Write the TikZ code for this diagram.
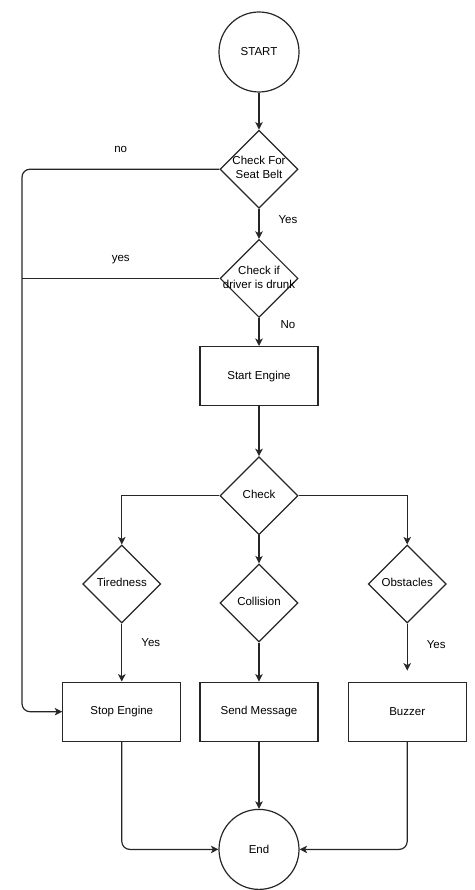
\documentclass[tikz,border=0pt]{standalone}
\usepackage{fontspec}
\setmainfont{Liberation Sans}
\usepackage{xcolor}
\definecolor{flowline}{RGB}{38, 38, 38}
\usepackage{tikz}
\usetikzlibrary{positioning, shapes.geometric, arrows.meta}
\newcommand{\dtext}[1]{\makebox[0pt]{\begin{tabular}{@{}c@{}}#1\end{tabular}}}

\begin{document}
\begin{tikzpicture}[x=1pt, y=1pt, node distance=30pt]

  \tikzstyle{terminal} = [
    circle, draw=flowline, line width=1.2pt,
    minimum size=80pt, inner sep=0pt,
    font=\fontsize{11.5}{14}\selectfont
  ]
  \tikzstyle{decision} = [
    diamond, draw=flowline, line width=1.2pt,
    minimum width=78pt, minimum height=78pt, inner sep=0pt,
    font=\fontsize{11.5}{14}\selectfont
  ]
  \tikzstyle{process} = [
    rectangle, draw=flowline, line width=1.2pt,
    minimum width=118pt, minimum height=59pt,
    font=\fontsize{11.5}{14}\selectfont
  ]
  \tikzstyle{flow} = [
    -{Stealth[length=7.5pt, width=7.5pt, inset=2pt]},
    line width=1.2pt, draw=flowline
  ]
  \tikzstyle{answer} = [inner sep=0pt, font=\fontsize{11.5}{14}\selectfont]

  \useasboundingbox (0,0) rectangle (474,-890);

  \node[terminal] (start) at (259,-52) {START};

  \node[decision, below=37pt of start] (belt)
    {\dtext{Check For\\Seat Belt}};

  \node[decision, below=30pt of belt] (drunk)
    {\dtext{Check if\\driver is drunk}};

  \node[process, below=28pt of drunk] (engine) {Start Engine};

  \node[decision, below=50pt of engine] (check) {\dtext{Check}};

  \node[decision, below=28pt of check] (collide) {\dtext{Collision}};

  \node[decision, left=58pt of collide, yshift=19pt] (tired)
    {\dtext{Tiredness}};

  \node[decision, right=69pt of collide, yshift=19pt] (obst)
    {\dtext{Obstacles}};

  \node[process, below=58pt of tired] (halt) {Stop Engine};

  \node[process, below=39pt of collide] (notify) {Send Message};

  \node[process, below=58pt of obst] (buzz) {Buzzer};

  \node[terminal, below=67pt of notify] (finish) {End};

  \coordinate (rail) at (22,0);

  \draw[flow] (start) -- (belt);
  \draw[flow] (belt) -- node[answer, right=19pt, pos=0.35] {Yes} (drunk);
  \draw[flow] (drunk) -- node[answer, right=21pt, pos=0.25] {No} (engine);
  \draw[flow] (engine) -- (check);
  \draw[flow] (check.west) -| (tired.north);
  \draw[flow] (check) -- (collide);
  \draw[flow] (check.east) -| (obst.north);
  \draw[flow] (tired) -- node[answer, right=19pt, pos=0.32] {Yes} (halt);
  \draw[flow] (collide) -- (notify);
  \draw[flow, shorten >=11pt] (obst) -- node[answer, right=19pt, pos=0.36] {Yes} (buzz);
  \draw[flow] (notify) -- (finish);
  \draw[flow, rounded corners=8pt] (halt.south) |- (finish.west);
  \draw[flow, rounded corners=8pt] (buzz.south) |- (finish.east);

  \draw[flow, rounded corners=8pt] (belt.west)
    -| node[answer, above=16pt, pos=0.25] {no} (rail |- halt.west)
    -- (halt.west);
  \draw[line width=1.2pt, draw=flowline] (drunk.west)
    -- node[answer, above=14pt] {yes} (drunk.west -| rail);

\end{tikzpicture}
\end{document}
